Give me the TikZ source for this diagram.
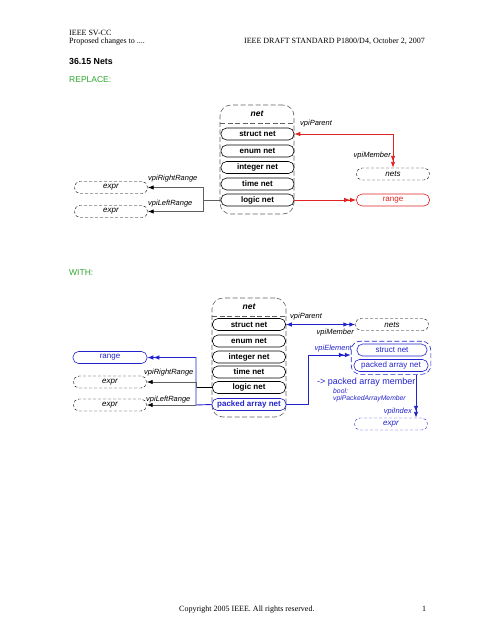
\documentclass[tikz,border=0pt]{standalone}
\usepackage{fontspec}
\setmainfont{Liberation Serif}
\newfontfamily\arial{Liberation Sans}
\usetikzlibrary{arrows.meta,fit}

\definecolor{vpired}{RGB}{225,35,35}
\definecolor{vpiblue}{RGB}{35,35,205}
\definecolor{vpigreen}{RGB}{45,165,45}
\definecolor{linegray}{RGB}{95,95,95}

\tikzset{
  pagetext/.style={inner sep=0pt, font=\rmfamily\fontsize{8}{9}\selectfont},
  objbox/.style={draw, line width=0.6pt, rounded corners=5.5pt, minimum width=73pt, minimum height=12pt,
    inner sep=0pt, font=\arial\bfseries\fontsize{8}{9}\selectfont},
  refbox/.style={draw, dash pattern=on 3pt off 2pt, rounded corners=5.5pt, minimum width=73pt,
    minimum height=12pt, inner sep=0pt, font=\arial\itshape\fontsize{8}{9}\selectfont},
  netframe/.style={draw=linegray, line width=0.6pt, dash pattern=on 5pt off 2.5pt, rounded corners=11pt, inner sep=0pt},
  rellabel/.style={inner sep=0pt, font=\arial\itshape\fontsize{7.5}{9}\selectfont},
  grayarrow/.style={draw=linegray, line width=0.9pt, -{Latex[length=6pt,width=4.5pt,color=black]}},
  twoway/.style={line width=0.9pt, {Latex[length=6pt,width=4.5pt]}-{Latex[length=6pt,width=4.5pt]Latex[length=6pt,width=4.5pt]}},
  oneway/.style={line width=0.9pt, -{Latex[length=6pt,width=4.5pt]Latex[length=6pt,width=4.5pt]}}
}

\begin{document}
\begin{tikzpicture}[x=1pt,y=-1pt]
  \useasboundingbox (0,0) rectangle (495,640);

  % page header and titles
  \node[pagetext, anchor=base west] (hdl) at (69,35) {IEEE SV-CC};
  \node[pagetext, anchor=base west] (hdp) at (69,43) {Proposed changes to ....};
  \node[pagetext, anchor=base east] (hdr) at (425,43) {IEEE DRAFT STANDARD P1800/D4, October 2, 2007};
  \node[inner sep=0pt, anchor=base west, font=\arial\bfseries\fontsize{8.8}{10}\selectfont] (sect) at (69,64) {36.15 Nets};
  \node[inner sep=0pt, anchor=base west, text=vpigreen, font=\arial\fontsize{8.5}{10}\selectfont] (repl) at (69,82) {REPLACE:};

  % REPLACE: net class
  \node[netframe, minimum width=74pt, minimum height=109pt] (frameA) at (257,159.5) {};
  \draw[linegray, line width=0.6pt, dash pattern=on 5pt off 2.5pt] (220,123) -- (294,123);
  \node[inner sep=0pt, font=\arial\bfseries\itshape\fontsize{8.5}{10}\selectfont] (netA) at (257,114) {net};
  \node[objbox] (structA) at (257.5,134) {struct net};
  \node[objbox] (enumA) at (257.5,151) {enum net};
  \node[objbox] (intA) at (257.5,167.5) {integer net};
  \node[objbox] (timeA) at (257.5,184) {time net};
  \node[objbox] (logicA) at (257.5,200) {logic net};

  % REPLACE: related objects
  \node[refbox] (netsA) at (393,174) {nets};
  \node[objbox, draw=vpired, text=vpired, font=\arial\fontsize{8}{9}\selectfont] (rangeA) at (393,200) {range};
  \node[refbox] (exprA1) at (111,187.5) {expr};
  \node[refbox] (exprA2) at (111,211.5) {expr};

  \draw[vpired, twoway] (structA.east) -| (netsA.north);
  \draw[vpired, oneway] (logicA.east) -- (rangeA.west);
  \coordinate (jointA) at (203,200);
  \draw[linegray, line width=0.9pt] (logicA.west) -- (jointA);
  \draw[grayarrow] (jointA) |- (exprA1.east);
  \draw[grayarrow] (jointA) |- (exprA2.east);

  \node[rellabel, anchor=west] (parentA) at (300,124) {vpiParent};
  \node[rellabel, anchor=east] (memberA) at (391,156) {vpiMember};
  \node[rellabel, anchor=west] (rightA) at (148,179) {vpiRightRange};
  \node[rellabel, anchor=west] (leftA) at (148,204) {vpiLeftRange};

  % WITH: net class
  \node[inner sep=0pt, anchor=base west, text=vpigreen, font=\arial\fontsize{8.5}{10}\selectfont] (with) at (69,275) {WITH:};
  \node[netframe, minimum width=74pt, minimum height=119pt] (frameB) at (249,357.5) {};
  \draw[linegray, line width=0.6pt, dash pattern=on 5pt off 2.5pt] (212,316) -- (286,316);
  \node[inner sep=0pt, font=\arial\bfseries\itshape\fontsize{8.5}{10}\selectfont] (netB) at (249,307) {net};
  \node[objbox] (structB) at (249,324.5) {struct net};
  \node[objbox] (enumB) at (249,341) {enum net};
  \node[objbox] (intB) at (249,357) {integer net};
  \node[objbox] (timeB) at (249,372) {time net};
  \node[objbox] (logicB) at (249,387.5) {logic net};
  \node[objbox, draw=vpiblue, text=vpiblue, minimum width=74pt] (packedB) at (249,404.5) {packed array net};

  % WITH: related objects
  \node[refbox] (netsB) at (392,324.5) {nets};
  \node[objbox, draw=vpiblue, text=vpiblue, minimum width=70pt, font=\arial\fontsize{8}{9}\selectfont] (elstruct) at (392,350) {struct net};
  \node[objbox, draw=vpiblue, text=vpiblue, minimum width=74pt, font=\arial\fontsize{8}{9}\selectfont] (elpacked) at (391,365.5) {packed array net};
  \node[draw=vpiblue, line width=0.6pt, dash pattern=on 5pt off 2.5pt, rounded corners=9pt, inner sep=2.5pt, fit=(elstruct)(elpacked)] (elgroup) {};
  \node[refbox, draw=vpiblue, text=vpiblue] (exprB3) at (391,424) {expr};
  \node[objbox, draw=vpiblue, text=vpiblue, minimum width=74pt, font=\arial\fontsize{8}{9}\selectfont] (rangeB) at (110,357.5) {range};
  \node[refbox] (exprB1) at (110,382) {expr};
  \node[refbox] (exprB2) at (110,405) {expr};

  \draw[vpiblue, twoway] (structB.east) -- (netsB.west);
  \coordinate (bendB) at (308,355);
  \draw[vpiblue, oneway] (packedB.east) -| (bendB) -- (bendB -| elgroup.west);
  \draw[vpiblue, oneway] ([xshift=25pt]elgroup.south) -- ([xshift=25pt]elgroup.south |- exprB3.north);
  \coordinate (jointB) at (196,405);
  \draw[vpiblue, oneway] (packedB.west) -- (jointB) |- (rangeB.east);
  \draw[black, line width=0.9pt] (logicB.west) -- (logicB.west -| jointB);
  \draw[grayarrow] (logicB.west -| jointB) |- (exprB1.east);
  \draw[grayarrow] (jointB) -- (exprB2.east);

  \node[rellabel, anchor=west] (parentB) at (290,317) {vpiParent};
  \node[rellabel, anchor=east] (memberB) at (354,333) {vpiMember};
  \node[rellabel, text=vpiblue, anchor=east] (elemB) at (352,348.5) {vpiElement};
  \node[rellabel, text=vpiblue, anchor=east] (indexB) at (412,412) {vpiIndex};
  \node[rellabel, anchor=west] (rightB) at (144,373) {vpiRightRange};
  \node[rellabel, anchor=west] (leftB) at (146,400) {vpiLeftRange};
  \node[inner sep=0pt, anchor=west, text=vpiblue, font=\arial\fontsize{9}{10}\selectfont] (pamember) at (317,382) {-> packed array member};
  \node[inner sep=0pt, anchor=west, align=left, text=vpiblue, font=\arial\itshape\fontsize{6.8}{7.5}\selectfont] (pabool) at (333,395) {bool:\\vpiPackedArrayMember};

  % footer
  \node[pagetext, anchor=base west] (copy) at (179,611) {Copyright 2005 IEEE. All rights reserved.};
  \node[pagetext, anchor=base] (pageno) at (424,611) {1};
\end{tikzpicture}
\end{document}
